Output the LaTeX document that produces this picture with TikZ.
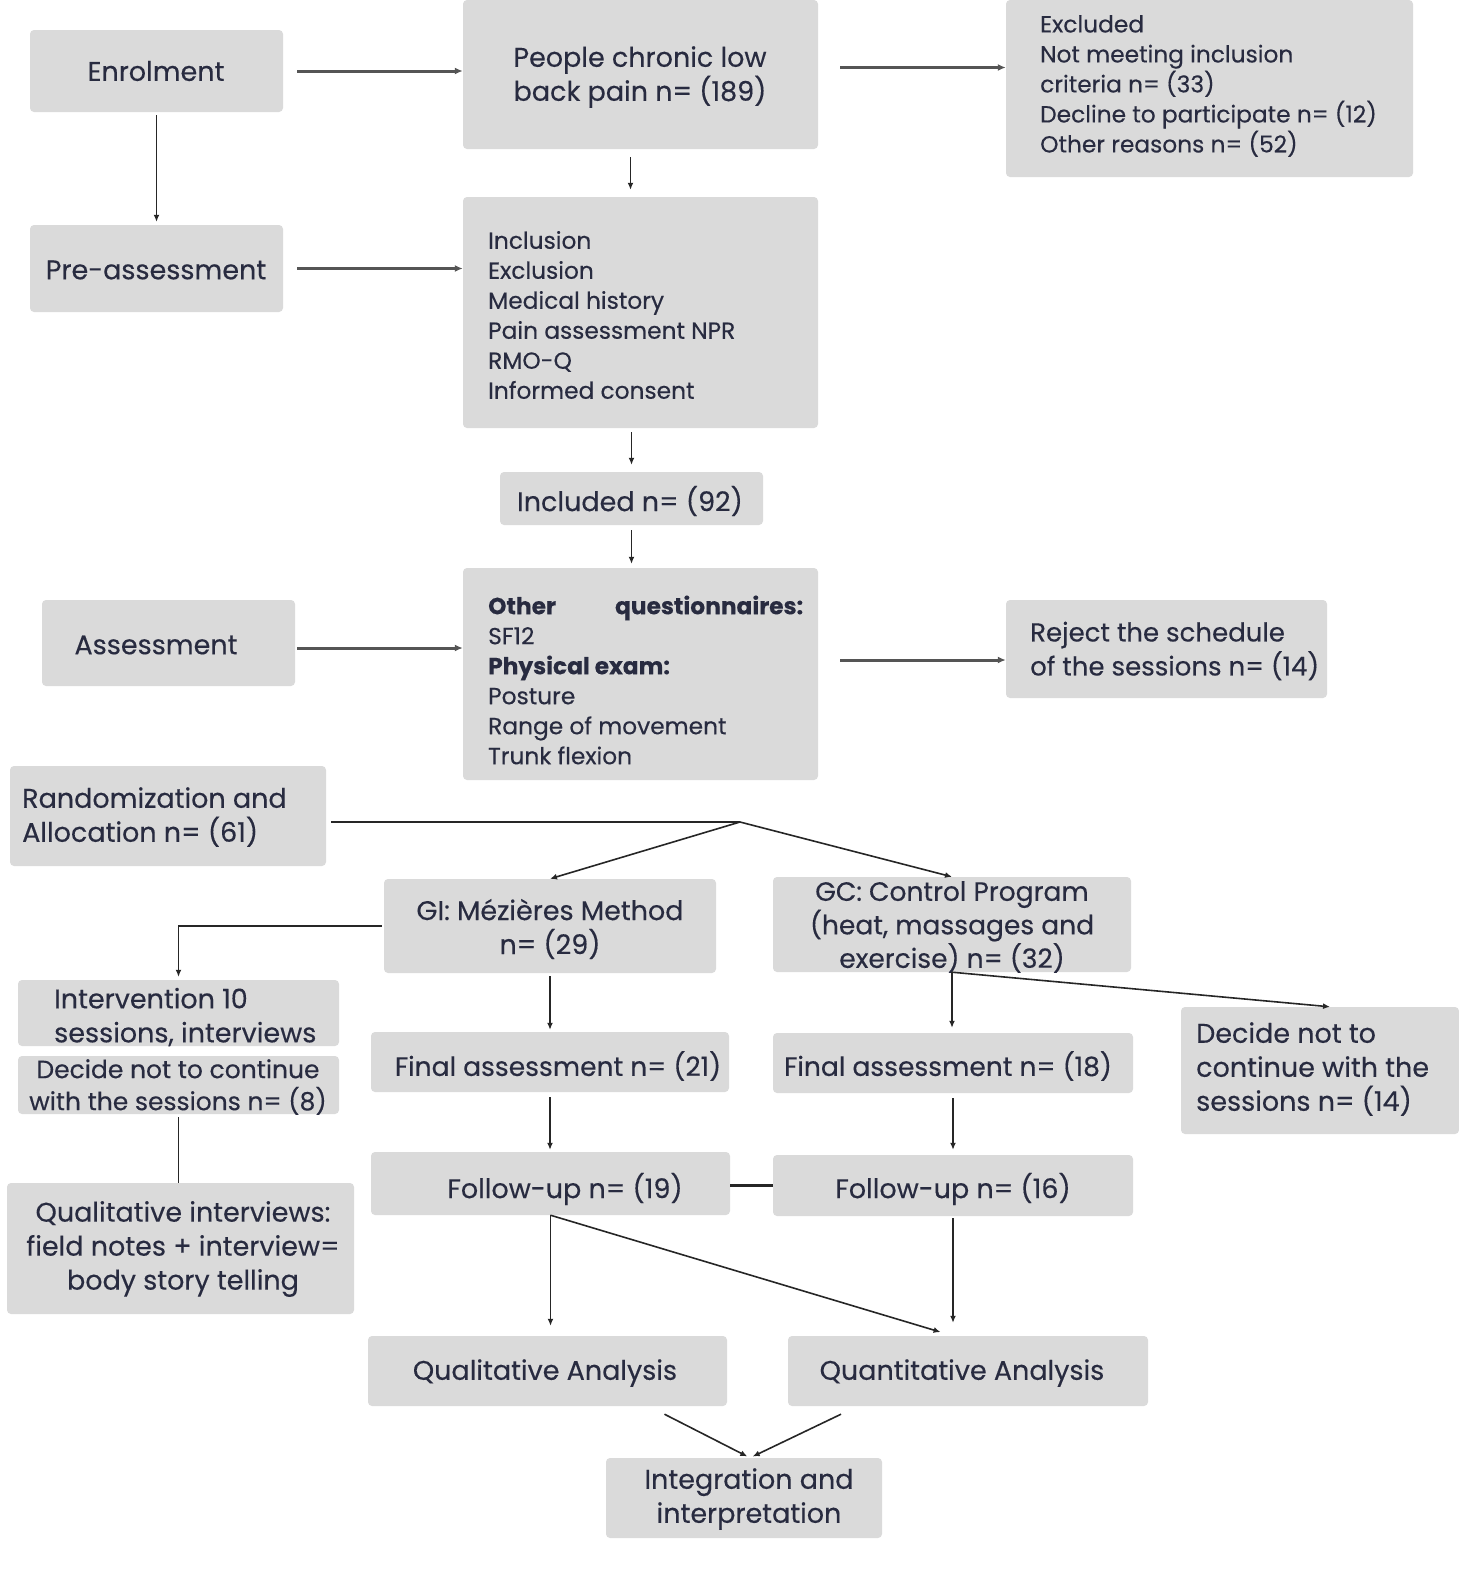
\documentclass[tikz,border=0pt]{standalone}
\usepackage{fontspec}
\setmainfont{Poppins}[FakeBold=0.3]
\usetikzlibrary{arrows.meta,fit}
\definecolor{boxgray}{RGB}{218,218,218}
\definecolor{txtc}{RGB}{40,43,64}
\definecolor{arrgray}{RGB}{85,85,85}
\begin{document}
\begin{tikzpicture}[x=1pt,y=-1pt,
 box/.style={fill=boxgray, rounded corners=4pt, inner sep=0pt, draw=none},
 lbl/.style={text=txtc, inner sep=0pt, font=\fontsize{27}{34}\selectfont, align=center},
 lbls/.style={text=txtc, inner sep=0pt, font=\fontsize{23.3}{30}\selectfont, align=left},
 harr/.style={draw=arrgray, line width=3pt, -{Latex[length=8pt,width=7pt]}},
 varr/.style={draw=black!85, line width=1.6pt, -{Latex[length=7pt,width=6pt]}},
 plain/.style={draw=black!85, line width=1.6pt},
]
\useasboundingbox (0,0) rectangle (1459,1580);

% boxes and texts
\node[box, fit={(30,30)(283,112)}] (enrol) {};
\node[lbl] (tenrol) at (156,71) {Enrolment};
\node[box, fit={(463,0)(818,149)}] (people) {};
\node[lbl] (tpeople) at (640,77) {People chronic low\\back pain n= (189)};
\node[box, fit={(1006,0)(1413,177)}] (excl) {};
\node[lbls, anchor=west] (texcl) at (1040,86) {Excluded\\Not meeting inclusion\\criteria n= (33)\\Decline to participate n= (12)\\Other reasons n= (52)};
\node[box, fit={(30,225)(283,312)}] (pre) {};
\node[lbl] (tpre) at (156,270) {Pre-assessment};
\node[box, fit={(463,197)(818,428)}] (incl) {};
\node[lbls, anchor=west] (tincl) at (488,315) {Inclusion\\Exclusion\\Medical history\\Pain assessment NPR\\RMO-Q\\Informed consent};
\node[box, fit={(500,472)(763,525)}] (included) {};
\node[lbl] (tincluded) at (630,501) {Included n= (92)};
\node[box, fit={(42,600)(295,686)}] (assess) {};
\node[lbl] (tassess) at (156,645) {Assessment};
\node[box, fit={(463,568)(818,780)}] (other) {};
\node[lbls, anchor=west] (tother) at (488,680) {\makebox[315pt][s]{\bfseries Other questionnaires:}\\SF12\\\textbf{Physical exam:}\\Posture\\Range of movement\\Trunk flexion};
\node[box, fit={(1006,600)(1327,698)}] (reject) {};
\node[lbl, align=left, anchor=west, font=\fontsize{26}{34}\selectfont] (treject) at (1030,651) {Reject the schedule\\of the sessions n= (14)};
\node[box, fit={(10,766)(326,866)}] (rand) {};
\node[lbl, align=left, anchor=west] (trand) at (22,817) {Randomization and\\Allocation n= (61)};
\node[box, fit={(384,879)(716,973)}] (gi) {};
\node[lbl] (tgi) at (550,929) {GI: Mézières Method\\n= (29)};
\node[box, fit={(773,877)(1131,972)}] (gc) {};
\node[lbl, font=\fontsize{26.5}{33.5}\selectfont] (tgc) at (952,927) {GC: Control Program\\(heat, massages and\\exercise) n= (32)};
\node[box, fit={(18,980)(339,1046)}] (interv) {};
\node[lbl, align=left, anchor=west] (tinterv) at (54,1017) {Intervention 10\\sessions, interviews};
\node[box, fit={(18,1056)(339,1114)}] (dec8) {};
\node[lbl, font=\fontsize{25}{32}\selectfont] (tdec8) at (178,1087) {Decide not to continue\\with the sessions n= (8)};
\node[box, fit={(371,1032)(729,1092)}] (fin21) {};
\node[lbl, font=\fontsize{26.5}{34}\selectfont] (tfin21) at (558,1066) {Final assessment n= (21)};
\node[box, fit={(773,1033)(1133,1093)}] (fin18) {};
\node[lbl, font=\fontsize{26.5}{34}\selectfont] (tfin18) at (948,1066) {Final assessment n= (18)};
\node[box, fit={(1181,1007)(1459,1134)}] (dec14) {};
\node[lbl, align=left, anchor=west] (tdec14) at (1196,1069) {Decide not to\\continue with the\\sessions n= (14)};
\node[box, fit={(7,1183)(354,1314)}] (qint) {};
\node[lbl] (tqint) at (183,1249) {Qualitative interviews:\\field notes + interview=\\body story telling};
\node[box, fit={(371,1152)(730,1215)}] (fu19) {};
\node[lbl] (tfu19) at (565,1189) {Follow-up n= (19)};
\node[box, fit={(773,1155)(1133,1216)}] (fu16) {};
\node[lbl] (tfu16) at (953,1189) {Follow-up n= (16)};
\node[box, fit={(368,1336)(727,1406)}] (qual) {};
\node[lbl] (tqual) at (545,1373) {Qualitative Analysis};
\node[box, fit={(788,1336)(1148,1406)}] (quant) {};
\node[lbl] (tquant) at (962,1373) {Quantitative Analysis};
\node[box, fit={(606,1458)(882,1538)}] (integ) {};
\node[lbl] (tinteg) at (749,1499) {Integration and\\interpretation};

% connectors
\draw[harr, shorten <=14pt] (enrol.east) -- (enrol.east -| people.west);
\draw[harr, shorten <=22pt] ([yshift=7pt]people.east) -- ([yshift=7pt]people.east -| excl.west);
\draw[varr, shorten <=3pt, shorten >=3pt] (enrol.south) -- (pre.north);
\draw[varr, shorten <=8pt, shorten >=7pt] ([xshift=-10pt]people.south) -- ([xshift=-10pt]people.south |- incl.north);
\draw[harr, shorten <=14pt] (pre.east) -- (pre.east -| incl.west);
\draw[varr, shorten <=4pt, shorten >=7pt] (incl.south -| included.south) -- (included.north);
\draw[varr, shorten <=5pt, shorten >=4pt] (included.south) -- (included.south |- other.north);
\draw[harr, shorten <=2pt] ([yshift=-5pt]assess.east) -- ([yshift=-5pt]assess.east -| other.west);
\draw[harr, shorten <=22pt] ([yshift=-11pt]reject.west -| other.east) -- ([yshift=-11pt]reject.west);
\coordinate (split) at (740,822);
\draw[plain, shorten <=5pt] ([yshift=-6pt]rand.east) -- (split);
\draw[varr] (split) -- (gi.north);
\draw[varr] (split) -- (gc.north);
\draw[varr, shorten <=2pt, shorten >=3pt] (gi.west) -| (interv.north);
\draw[varr, shorten <=3pt, shorten >=2pt] (gi.south) -- (gi.south |- fin21.north);
\draw[varr, shorten >=5pt] (gc.south) -- (gc.south |- fin18.north);
\draw[varr] (gc.south) -- ([xshift=10pt]dec14.north);
\draw[plain, shorten <=3pt] (dec8.south) -- (dec8.south |- qint.north);
\draw[varr, shorten <=5pt, shorten >=2pt] (fin21.south) -- (fin21.south |- fu19.north);
\draw[varr, shorten <=5pt, shorten >=5pt] (fin18.south) -- (fin18.south |- fu16.north);
\draw[plain, line width=2.5pt] ([yshift=-2pt]fu19.east) -- ([yshift=-2pt]fu19.east -| fu16.west);
\draw[varr, shorten >=10pt] (fu19.south) -- (fu19.south |- qual.north);
\draw[varr, shorten >=13pt] (fu19.south) -- (fu16.south |- quant.north);
\draw[varr, shorten <=2pt, shorten >=13pt] (fu16.south) -- (fu16.south |- quant.north);
\draw[varr, shorten >=3pt] ([shift={(117,8)}]qual.south) -- ([xshift=6pt]integ.north);
\draw[varr, shorten >=3pt] ([shift={(-127,8)}]quant.south) -- ([xshift=6pt]integ.north);
\end{tikzpicture}
\end{document}
